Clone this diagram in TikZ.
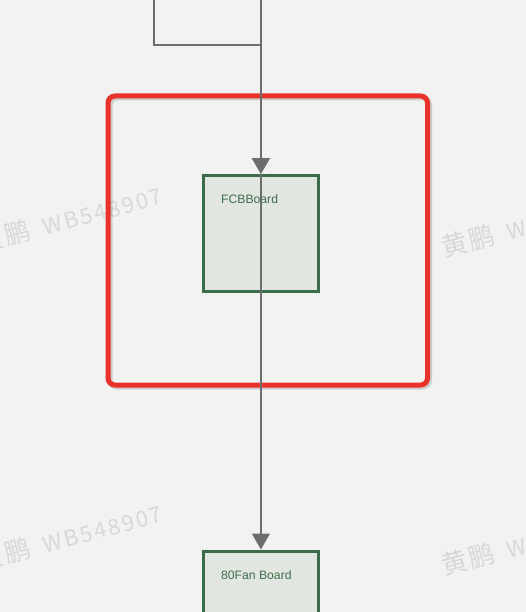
\documentclass[tikz,border=0pt]{standalone}
\usepackage{fontspec}
\setmainfont{Liberation Sans}
\newfontfamily\cjk{Noto Sans CJK SC}
\usetikzlibrary{arrows.meta,positioning}

\definecolor{paper}{HTML}{F2F2F1}
\definecolor{wmgray}{HTML}{D8D8D8}
\definecolor{linegray}{HTML}{6D6D6D}
\definecolor{boardgreen}{HTML}{3B6B48}
\definecolor{boardfill}{HTML}{E1E6E1}
\definecolor{boardtext}{HTML}{3F6E4B}
\definecolor{framered}{HTML}{E8322A}

\newcommand{\wmtext}{{\fontsize{26}{26}\selectfont 黄鹏}\hspace{13pt}WB548907}

\begin{document}
\begin{tikzpicture}[x=1pt,y=-1pt,
    board/.style={draw=boardgreen,line width=3pt,fill=boardfill,minimum width=115pt,minimum height=116pt,inner sep=0pt},
    boardlabel/.style={anchor=base west,inner sep=0pt,text=boardtext,font=\fontsize{12.2}{14}\selectfont},
    flow/.style={draw=linegray,line width=1.5pt,-{Triangle[width=18pt,length=16pt]}},
    focusframe/.style={draw=framered,line width=5pt,rounded corners=7pt,minimum width=319.5pt,minimum height=289pt,
        preaction={draw=black,opacity=0.15,transform canvas={xshift=2pt,yshift=-2pt}}},
    watermark/.style={anchor=base west,inner sep=0pt,rotate=15,text=wmgray,
        font=\cjk\fontsize{22}{22}\selectfont\addfontfeature{LetterSpace=10}}]
    \useasboundingbox (0,0) rectangle (526,612); % page size
    \clip (0,0) rectangle (526,612);
    \fill[paper] (0,0) rectangle (526,612); % paper background

    % watermarks
    \node[watermark] (wm1) at (-20,253) {\wmtext};
    \node[watermark] (wm2) at (444,258) {\wmtext};
    \node[watermark] (wm3) at (-20,571) {\wmtext};
    \node[watermark] (wm4) at (444,576) {\wmtext};

    \node[draw=linegray,line width=1.5pt,outer sep=0pt,minimum width=106.9pt,minimum height=80pt] (top) at (207.45,5) {}; % box cut by the page
    \node[focusframe] (focus) at (267.75,240.5) {}; % red highlight
    \node[board] (fcb) at (260.9,233.7) {};
    \node[boardlabel] (fcblabel) at ([xshift=19pt,yshift=-29.8pt]fcb.north west) {FCBBoard};
    \node[board] (fan) at (260.9,609) {};
    \node[boardlabel] (fanlabel) at ([xshift=19pt,yshift=-29.8pt]fan.north west) {80Fan Board};

    \draw[flow] (top.south east) -- (fcb.north);
    \draw[flow] (fcb.north) -- (fan.north); % runs over the board
\end{tikzpicture}
\end{document}
